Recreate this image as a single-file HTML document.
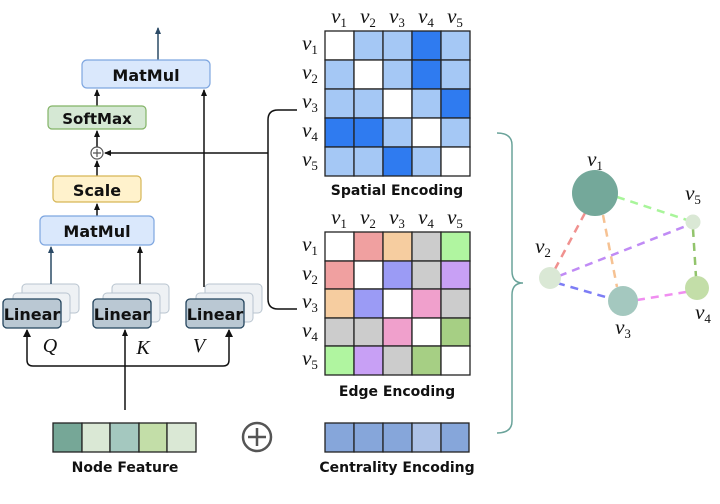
<!DOCTYPE html>
<html><head><meta charset="utf-8"><style>
html,body{margin:0;padding:0;background:#fff}
svg{display:block}
.b{font-family:"DejaVu Sans","Liberation Sans",sans-serif;font-weight:bold;fill:#111}
.m{font-family:"Liberation Serif",serif;font-style:italic;fill:#111}
</style></head><body>
<svg width="720" height="504" viewBox="0 0 720 504" xmlns="http://www.w3.org/2000/svg">
<defs>
<marker id="a" markerWidth="8" markerHeight="8" refX="6" refY="4" orient="auto" markerUnits="userSpaceOnUse"><path d="M0,1 L7,4 L0,7 Z" fill="#111"/></marker>
<marker id="a2" markerWidth="8" markerHeight="8" refX="6" refY="4" orient="auto" markerUnits="userSpaceOnUse"><path d="M0,1 L7,4 L0,7 Z" fill="#2b4a66"/></marker>
</defs>
<line x1="158" y1="60" x2="158" y2="28" stroke="#2b4a66" stroke-width="1.5" marker-end="url(#a2)"/>
<rect x="82" y="60" width="128" height="28" rx="5" fill="#dae8fc" stroke="#7ea6e0" stroke-width="1.2"/>
<text x="146" y="81" class="b" font-size="16" text-anchor="middle">MatMul</text>
<line x1="97" y1="106" x2="97" y2="90" stroke="#111" stroke-width="1.5" marker-end="url(#a)"/>
<rect x="48" y="106" width="98" height="23" rx="4" fill="#d5e8d4" stroke="#82b366" stroke-width="1.2"/>
<text x="97" y="124" class="b" font-size="15" text-anchor="middle">SoftMax</text>
<line x1="97" y1="147" x2="97" y2="131" stroke="#111" stroke-width="1.5" marker-end="url(#a)"/>
<circle cx="97" cy="153" r="6" fill="#fff" stroke="#555" stroke-width="1.2"/>
<path d="M93,153 H101 M97,149 V157" stroke="#555" stroke-width="1.2"/>
<line x1="97" y1="176" x2="97" y2="161" stroke="#111" stroke-width="1.5" marker-end="url(#a)"/>
<rect x="53" y="176" width="88" height="26" rx="4" fill="#fff2cc" stroke="#d6b656" stroke-width="1.2"/>
<text x="97" y="196" class="b" font-size="16" text-anchor="middle">Scale</text>
<line x1="97" y1="216" x2="97" y2="204" stroke="#111" stroke-width="1.5" marker-end="url(#a)"/>
<rect x="40" y="216" width="114" height="29" rx="5" fill="#dae8fc" stroke="#7ea6e0" stroke-width="1.2"/>
<text x="97" y="237" class="b" font-size="16" text-anchor="middle">MatMul</text>
<g stroke="#b8c4cf" stroke-width="1" fill="#eef1f4">
<rect x="22" y="284" width="57" height="29" rx="4"/><rect x="13" y="293" width="57" height="29" rx="4"/>
<rect x="112" y="284" width="57" height="29" rx="4"/><rect x="103" y="293" width="57" height="29" rx="4"/>
<rect x="205" y="284" width="57" height="29" rx="4"/><rect x="196" y="293" width="57" height="29" rx="4"/>
</g>
<line x1="51" y1="284" x2="51" y2="247" stroke="#2b4a66" stroke-width="1.5" marker-end="url(#a2)"/>
<line x1="140" y1="284" x2="140" y2="247" stroke="#111" stroke-width="1.5" marker-end="url(#a)"/>
<line x1="204" y1="287" x2="204" y2="90" stroke="#111" stroke-width="1.5" marker-end="url(#a)"/>
<g fill="#bac8d3" stroke="#23445d" stroke-width="1.3">
<rect x="3" y="299" width="58" height="29" rx="4"/><rect x="93" y="299" width="58" height="29" rx="4"/><rect x="186" y="299" width="58" height="29" rx="4"/>
</g>
<text x="32" y="320" class="b" font-size="16" text-anchor="middle">Linear</text>
<text x="122" y="320" class="b" font-size="16" text-anchor="middle">Linear</text>
<text x="215" y="320" class="b" font-size="16" text-anchor="middle">Linear</text>
<text x="50" y="352" class="m" font-size="20" text-anchor="middle">Q</text>
<text x="143" y="354" class="m" font-size="20" text-anchor="middle">K</text>
<text x="199" y="352" class="m" font-size="20" text-anchor="middle">V</text>
<line x1="125" y1="410" x2="125" y2="330" stroke="#111" stroke-width="1.5" marker-end="url(#a)"/>
<path d="M27,330 V360 Q27,366 33,366 H223 Q229,366 229,360 V330" fill="none" stroke="#111" stroke-width="1.5"/>
<path d="M23,337 L27,329 L31,337 Z M225,337 L229,329 L233,337 Z" fill="#111"/>
<path d="M297,110 H278 Q268,110 268,120 V299 Q268,309 278,309 H297" fill="none" stroke="#111" stroke-width="1.5"/>
<line x1="268" y1="153" x2="105" y2="153" stroke="#111" stroke-width="1.5" marker-end="url(#a)"/>
<g stroke="#222" stroke-width="1.3">
<rect x="325" y="31" width="29" height="29" fill="#fff"/><rect x="354" y="31" width="29" height="29" fill="#a5c8f5"/><rect x="383" y="31" width="29" height="29" fill="#a5c8f5"/><rect x="412" y="31" width="29" height="29" fill="#2f7bf0"/><rect x="441" y="31" width="29" height="29" fill="#a5c8f5"/>
<rect x="325" y="60" width="29" height="29" fill="#a5c8f5"/><rect x="354" y="60" width="29" height="29" fill="#fff"/><rect x="383" y="60" width="29" height="29" fill="#a5c8f5"/><rect x="412" y="60" width="29" height="29" fill="#2f7bf0"/><rect x="441" y="60" width="29" height="29" fill="#a5c8f5"/>
<rect x="325" y="89" width="29" height="29" fill="#a5c8f5"/><rect x="354" y="89" width="29" height="29" fill="#a5c8f5"/><rect x="383" y="89" width="29" height="29" fill="#fff"/><rect x="412" y="89" width="29" height="29" fill="#a5c8f5"/><rect x="441" y="89" width="29" height="29" fill="#2f7bf0"/>
<rect x="325" y="118" width="29" height="29" fill="#2f7bf0"/><rect x="354" y="118" width="29" height="29" fill="#2f7bf0"/><rect x="383" y="118" width="29" height="29" fill="#a5c8f5"/><rect x="412" y="118" width="29" height="29" fill="#fff"/><rect x="441" y="118" width="29" height="29" fill="#a5c8f5"/>
<rect x="325" y="147" width="29" height="29" fill="#a5c8f5"/><rect x="354" y="147" width="29" height="29" fill="#a5c8f5"/><rect x="383" y="147" width="29" height="29" fill="#2f7bf0"/><rect x="412" y="147" width="29" height="29" fill="#a5c8f5"/><rect x="441" y="147" width="29" height="29" fill="#fff"/>
</g>
<g class="m" font-size="21" text-anchor="middle">
<text x="339" y="23">v<tspan font-size="13" font-style="normal" dy="4">1</tspan></text><text x="368" y="23">v<tspan font-size="13" font-style="normal" dy="4">2</tspan></text><text x="397" y="23">v<tspan font-size="13" font-style="normal" dy="4">3</tspan></text><text x="426" y="23">v<tspan font-size="13" font-style="normal" dy="4">4</tspan></text><text x="455" y="23">v<tspan font-size="13" font-style="normal" dy="4">5</tspan></text>
<text x="310" y="50">v<tspan font-size="13" font-style="normal" dy="4">1</tspan></text><text x="310" y="79">v<tspan font-size="13" font-style="normal" dy="4">2</tspan></text><text x="310" y="108">v<tspan font-size="13" font-style="normal" dy="4">3</tspan></text><text x="310" y="137">v<tspan font-size="13" font-style="normal" dy="4">4</tspan></text><text x="310" y="166">v<tspan font-size="13" font-style="normal" dy="4">5</tspan></text>
<text x="339" y="224">v<tspan font-size="13" font-style="normal" dy="4">1</tspan></text><text x="368" y="224">v<tspan font-size="13" font-style="normal" dy="4">2</tspan></text><text x="397" y="224">v<tspan font-size="13" font-style="normal" dy="4">3</tspan></text><text x="426" y="224">v<tspan font-size="13" font-style="normal" dy="4">4</tspan></text><text x="455" y="224">v<tspan font-size="13" font-style="normal" dy="4">5</tspan></text>
<text x="310" y="251">v<tspan font-size="13" font-style="normal" dy="4">1</tspan></text><text x="310" y="280">v<tspan font-size="13" font-style="normal" dy="4">2</tspan></text><text x="310" y="308">v<tspan font-size="13" font-style="normal" dy="4">3</tspan></text><text x="310" y="337">v<tspan font-size="13" font-style="normal" dy="4">4</tspan></text><text x="310" y="365">v<tspan font-size="13" font-style="normal" dy="4">5</tspan></text>
</g>
<text x="397" y="195" class="b" font-size="14" text-anchor="middle">Spatial Encoding</text>
<g stroke="#222" stroke-width="1.3">
<rect x="325" y="232" width="29" height="29" fill="#fff"/><rect x="354" y="232" width="29" height="29" fill="#f0a0a0"/><rect x="383" y="232" width="29" height="29" fill="#f6cda0"/><rect x="412" y="232" width="29" height="29" fill="#cccccc"/><rect x="441" y="232" width="29" height="29" fill="#b0f5a0"/>
<rect x="325" y="261" width="29" height="28" fill="#f0a0a0"/><rect x="354" y="261" width="29" height="28" fill="#fff"/><rect x="383" y="261" width="29" height="28" fill="#9b9bf5"/><rect x="412" y="261" width="29" height="28" fill="#cccccc"/><rect x="441" y="261" width="29" height="28" fill="#c8a0f5"/>
<rect x="325" y="289" width="29" height="29" fill="#f6cda0"/><rect x="354" y="289" width="29" height="29" fill="#9b9bf5"/><rect x="383" y="289" width="29" height="29" fill="#fff"/><rect x="412" y="289" width="29" height="29" fill="#f0a0cc"/><rect x="441" y="289" width="29" height="29" fill="#cccccc"/>
<rect x="325" y="318" width="29" height="28" fill="#cccccc"/><rect x="354" y="318" width="29" height="28" fill="#cccccc"/><rect x="383" y="318" width="29" height="28" fill="#f0a0cc"/><rect x="412" y="318" width="29" height="28" fill="#fff"/><rect x="441" y="318" width="29" height="28" fill="#a6cf84"/>
<rect x="325" y="346" width="29" height="29" fill="#b0f5a0"/><rect x="354" y="346" width="29" height="29" fill="#c8a0f5"/><rect x="383" y="346" width="29" height="29" fill="#cccccc"/><rect x="412" y="346" width="29" height="29" fill="#a6cf84"/><rect x="441" y="346" width="29" height="29" fill="#fff"/>
</g>
<text x="397" y="396" class="b" font-size="14" text-anchor="middle">Edge Encoding</text>
<g stroke="#222" stroke-width="1.3">
<rect x="53" y="423" width="29" height="29" fill="#76a797"/><rect x="82" y="423" width="28" height="29" fill="#dae8d5"/><rect x="110" y="423" width="29" height="29" fill="#a4c8bf"/><rect x="139" y="423" width="28" height="29" fill="#c3dea8"/><rect x="167" y="423" width="29" height="29" fill="#dae8d5"/>
<rect x="325" y="423" width="29" height="29" fill="#86a6da"/><rect x="354" y="423" width="29" height="29" fill="#86a6da"/><rect x="383" y="423" width="29" height="29" fill="#86a6da"/><rect x="412" y="423" width="29" height="29" fill="#adc2e7"/><rect x="441" y="423" width="28" height="29" fill="#86a6da"/>
</g>
<text x="125" y="472" class="b" font-size="14" text-anchor="middle">Node Feature</text>
<text x="397" y="472" class="b" font-size="14" text-anchor="middle">Centrality Encoding</text>
<circle cx="257" cy="437" r="14" fill="#fff" stroke="#555" stroke-width="2.5"/>
<path d="M248,437 H266 M257,428 V446" stroke="#555" stroke-width="2.5"/>
<path d="M497,133 Q512,133 512,145 V271 Q512,283 523,283 Q512,283 512,295 V421 Q512,433 497,433" fill="none" stroke="#6aa39a" stroke-width="1.5"/>
<g fill="none" stroke-width="2.5" stroke-dasharray="8,6">
<line x1="585" y1="213" x2="555" y2="269" stroke="#f0918f"/>
<line x1="603" y1="215" x2="617" y2="287" stroke="#f6c293"/>
<line x1="617" y1="197" x2="687" y2="220" stroke="#a8f59a"/>
<line x1="559" y1="276" x2="686" y2="226" stroke="#c08bf5"/>
<line x1="557" y1="283" x2="609" y2="298" stroke="#7d7df5"/>
<line x1="637" y1="300" x2="686" y2="292" stroke="#f08ef0"/>
<line x1="693" y1="229" x2="696" y2="277" stroke="#92c46c"/>
</g>
<circle cx="595" cy="193" r="23" fill="#74a89a"/>
<circle cx="693" cy="222" r="7.5" fill="#dae8d5"/>
<circle cx="550" cy="278" r="11" fill="#dae8d5"/>
<circle cx="623" cy="301" r="15" fill="#a4c8bf"/>
<circle cx="697" cy="288" r="12" fill="#c3dea8"/>
<g class="m" font-size="21" text-anchor="middle">
<text x="595" y="166">v<tspan font-size="13" font-style="normal" dy="4">1</tspan></text>
<text x="693" y="200">v<tspan font-size="13" font-style="normal" dy="4">5</tspan></text>
<text x="543" y="253">v<tspan font-size="13" font-style="normal" dy="4">2</tspan></text>
<text x="623" y="334">v<tspan font-size="13" font-style="normal" dy="4">3</tspan></text>
<text x="703" y="319">v<tspan font-size="13" font-style="normal" dy="4">4</tspan></text>
</g>
</svg>
</body></html>
